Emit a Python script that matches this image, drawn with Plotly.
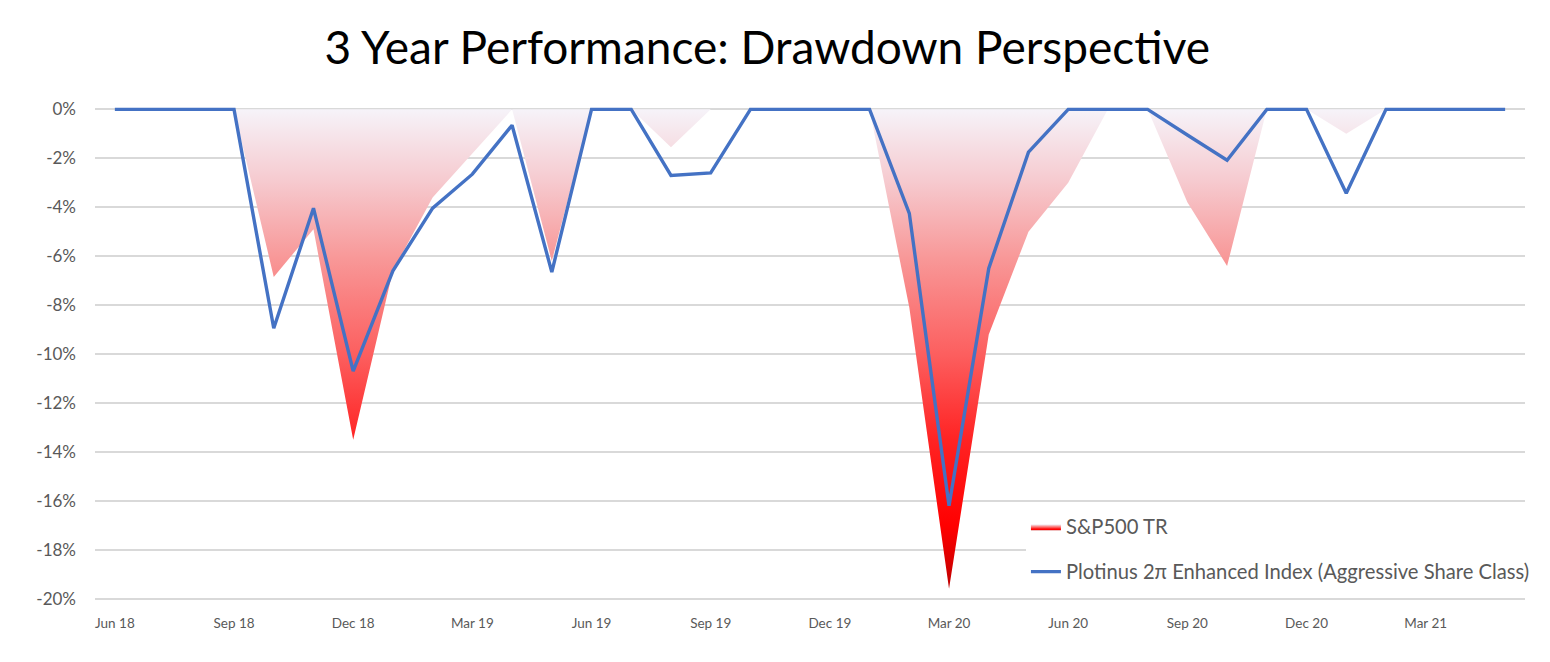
import plotly.graph_objects as go

months = ["Jun 18","Jul 18","Aug 18","Sep 18","Oct 18","Nov 18","Dec 18","Jan 19","Feb 19","Mar 19",
          "Apr 19","May 19","Jun 19","Jul 19","Aug 19","Sep 19","Oct 19","Nov 19","Dec 19","Jan 20",
          "Feb 20","Mar 20","Apr 20","May 20","Jun 20","Jul 20","Aug 20","Sep 20","Oct 20","Nov 20",
          "Dec 20","Jan 21","Feb 21","Mar 21","Apr 21","May 21"]

sp500_tr = [0, 0, 0, 0, -6.85, -4.9, -13.5, -6.6, -3.6, -1.8,
            0, -6.2, 0, 0, -1.55, 0, 0, 0, 0, 0,
            -8.1, -19.6, -9.2, -5.0, -3.0, 0, 0, -3.8, -6.4, 0,
            0, -1.0, 0, 0, 0, 0]

plotinus = [0, 0, 0, 0, -8.95, -4.04, -10.7, -6.6, -4.04, -2.65,
            -0.65, -6.65, 0, 0, -2.7, -2.6, 0, 0, 0, 0,
            -4.25, -16.2, -6.5, -1.75, 0, 0, 0, -1.05, -2.08, 0,
            0, -3.43, 0, 0, 0, 0]

tick_months = months[::3]
y_ticks = [0, -2, -4, -6, -8, -10, -12, -14, -16, -18, -20]
y_text = [f"{v}%" for v in y_ticks]

FONT = "Lato"
GRAY = "#595959"

fig = go.Figure()
fig.add_trace(go.Scatter(
    x=months, y=sp500_tr, name="S&P500 TR", mode="lines",
    line=dict(width=0, color="rgba(255,0,0,0)"),
    fill="tozeroy",
    fillgradient=dict(type="vertical", start=-19.6, stop=0,
                      colorscale=[[0.0, "rgb(190,0,0)"], [0.13, "rgb(255,0,0)"],
                                  [0.31, "rgb(255,35,35)"], [0.49, "rgb(252,95,95)"],
                                  [0.69, "rgb(248,152,152)"], [0.85, "rgb(246,202,207)"],
                                  [1.0, "rgb(246,243,249)"]]),
    legendgroup="a", hoverinfo="skip"))
fig.add_trace(go.Scatter(
    x=months, y=plotinus, name="Plotinus 2π Enhanced Index (Aggressive Share Class)",
    mode="lines", line=dict(width=3.4, color="#4472C4"),
    legendgroup="b"))

fig.update_layout(
    width=1550, height=662,
    margin=dict(l=95, r=25, t=101.65, b=55.65),
    paper_bgcolor="white", plot_bgcolor="white",
    title=dict(text="3 Year Performance: Drawdown Perspective", x=0.495, xanchor="center",
               y=0.927, yanchor="middle", font=dict(family=FONT, size=46, color="black")),
    font=dict(family=FONT, color=GRAY),
    showlegend=True,
    legend=dict(x=0.651, y=0.197, xanchor="left", yanchor="top", bgcolor="white",
                font=dict(family=FONT, size=20.2, color=GRAY), tracegroupgap=16,
                traceorder="grouped"),
    xaxis=dict(type="category", range=[-0.5, 35.5], tickmode="array", tickvals=tick_months,
               ticktext=tick_months, showgrid=False, showline=False, ticks="",
               ticklabelstandoff=7,
               tickfont=dict(family=FONT, size=13.5, color=GRAY)),
    yaxis=dict(range=[-20.3, 0.3], tickmode="array", tickvals=y_ticks, ticktext=y_text,
               showgrid=True, gridcolor="#d9d9d9", gridwidth=1.5, zeroline=False,
               showline=False, ticks="", ticklabelstandoff=18,
               tickfont=dict(family=FONT, size=17, color=GRAY)),
)

fig.write_html("out.html")
